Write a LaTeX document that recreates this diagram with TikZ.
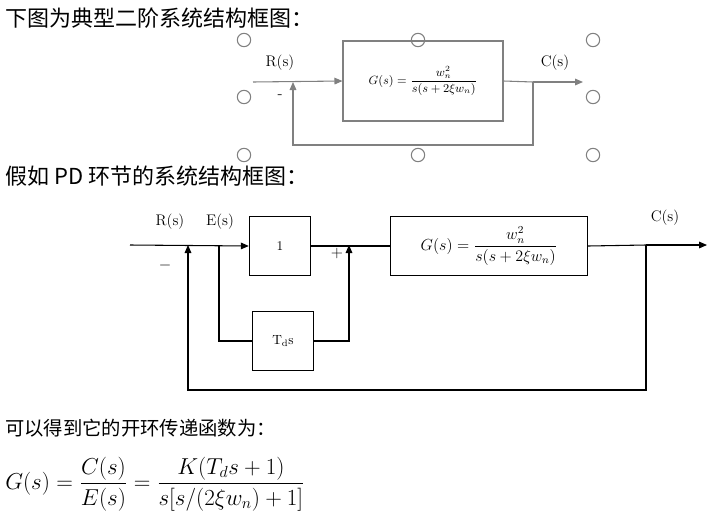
\documentclass[tikz,border=0pt]{standalone}
\usepackage{fontspec}
\usepackage{amsmath}
\newfontfamily\cjk{Noto Sans CJK SC}
\usetikzlibrary{arrows.meta}
\begin{document}
\begin{tikzpicture}
[x=0.75pt,y=-0.75pt,
  lineDecorate/.style={-,thick},
  arrowDecorate/.style={thick,-{Triangle[length=6pt,width=5pt]}},
  blockDecorate/.style={draw,thick,inner sep=0pt},
  handleDecorate/.style={shape=circle,draw=gray,thick,minimum size=10pt,inner sep=0pt},
  signalDecorate/.style={font=\fontsize{11.5}{13}\selectfont},
  textDecorate/.style={anchor=west,inner sep=0pt,font=\cjk\fontsize{16.5}{19}\selectfont}]
\useasboundingbox (0,0) rectangle (717,518);
%%
%% headings
\node (t1) at (5,18) [textDecorate] {下图为典型二阶系统结构框图：};
\node (t2) at (5,176) [textDecorate] {假如 PD 环节的系统结构框图：};
\node (t3) at (5,428) [textDecorate,font=\cjk\fontsize{14.5}{17}\selectfont] {可以得到它的开环传递函数为：};
\node (f) at (5,484) [anchor=west,inner sep=0pt,font=\fontsize{16.5}{20}\selectfont]
  {$G(s)=\dfrac{C(s)}{E(s)}=\dfrac{K(T_ds+1)}{s[s/(2\xi w_n)+1]}$};
%%
%%%%%%%%%%%%%%%%%%%%%%%%%%%%%%%%%%%%%%%%%%%%%%%%%%%%%%%%%%%%%%%%%%%%%%%%%%%
%%
%% second-order system
\foreach \nodename/\x/\y in {
  h0/244/40, h1/418/40, h2/593/40, h3/244/97,
  h4/593/97, h5/244/155, h6/418/155, h7/593/155}
{
  \node (\nodename) at (\x,\y) [handleDecorate] {};
}
\node (g0) at (423,81) [blockDecorate,draw=gray,minimum width=120pt,minimum height=60pt]
  {\small $G(s)=\dfrac{w_n^2}{s(s+2\xi w_n)}$};
\coordinate (in0) at (253,82);
\coordinate (s0) at (293,82);
\coordinate (b0) at (293,145);
\coordinate (o0) at (533,82);
\coordinate (c0) at (533,145);
\coordinate (out0) at (583,82);
\draw[arrowDecorate,gray] (in0) -- (g0.west);
\draw[lineDecorate,gray] (g0.east) -- (o0);
\draw[arrowDecorate,gray] (o0) -- (out0);
\draw[arrowDecorate,gray] (o0) -- (c0) -- (b0) -- (s0);
\node (r0) at (280,63) [signalDecorate] {R(s)};
\node (m0) at (280,97) [signalDecorate] {-};
\node (y0) at (555,63) [signalDecorate] {C(s)};
%%
%%%%%%%%%%%%%%%%%%%%%%%%%%%%%%%%%%%%%%%%%%%%%%%%%%%%%%%%%%%%%%%%%%%%%%%%%%%
%%
%% PD controlled system
\node (p1) at (280,246) [blockDecorate,minimum width=46pt,minimum height=44pt] {1};
\node (pd) at (283,341) [blockDecorate,minimum width=46pt,minimum height=44pt] {T$_\mathrm{d}$s};
\node (g1) at (489,246) [blockDecorate,minimum width=148pt,minimum height=44pt]
  {\large $G(s)=\dfrac{w_n^2}{s(s+2\xi w_n)}$};
\coordinate (in1) at (130,245);
\coordinate (s1) at (188,245);
\coordinate (b1) at (188,390);
\coordinate (e1) at (219,245);
\coordinate (e2) at (219,341);
\coordinate (a1) at (349,245);
\coordinate (a2) at (349,341);
\coordinate (o1) at (646,245);
\coordinate (c1) at (646,390);
\coordinate (out1) at (707,245);
\draw[arrowDecorate] (in1) -- (p1.west);
\draw[lineDecorate] (e1) -- (e2) -- (pd.west);
\draw[arrowDecorate] (pd.east) -- (a2) -- (a1);
\draw[lineDecorate] (p1.east) -- (g1.west);
\draw[lineDecorate] (g1.east) -- (o1);
\draw[arrowDecorate] (o1) -- (out1);
\draw[arrowDecorate] (o1) -- (c1) -- (b1) -- (s1);
\node (r1) at (170,222) [signalDecorate] {R(s)};
\node (e3) at (220,222) [signalDecorate] {E(s)};
\node (m1) at (165,265) [signalDecorate] {$-$};
\node (p2) at (337,253) [signalDecorate] {$+$};
\node (y1) at (665,218) [signalDecorate] {C(s)};
\end{tikzpicture}
\end{document}
